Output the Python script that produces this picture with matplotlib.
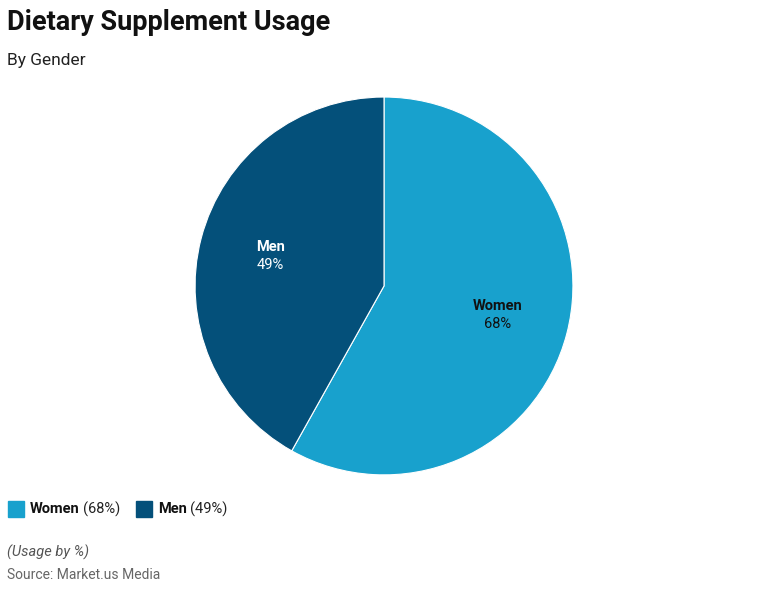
import matplotlib
matplotlib.use("Agg")
import matplotlib.pyplot as plt
from matplotlib.patches import Rectangle
import numpy as np

labels = ["Women", "Men"]
values = [68, 49]
colors = ["#18A1CD", "#04507A"]
text_colors = ["#111111", "white"]

plt.rcParams['font.family'] = ['Roboto', 'DejaVu Sans']
fig = plt.figure(figsize=(7.68, 5.89), dpi=100)
ax = fig.add_axes([0.254, 0.1935, 0.492, 0.642])
wedges, _ = ax.pie(values, colors=colors, startangle=90, counterclock=False,
                   wedgeprops=dict(edgecolor="white", linewidth=0.8))
ax.set_aspect("equal")
ax.set_xlim(-1, 1)
ax.set_ylim(-1, 1)
for w, lab, v, tc in zip(wedges, labels, values, text_colors):
    ang = np.deg2rad((w.theta1 + w.theta2) / 2)
    x, y = 0.62 * np.cos(ang), 0.62 * np.sin(ang)
    ax.text(x, y + 0.05, lab, ha="center", va="center", fontsize=10.5, fontweight="bold", color=tc)
    ax.text(x, y - 0.045, f"{v}%", ha="center", va="center", fontsize=10.5, color=tc)

fig.text(7/768, 1-22/589, "Dietary Supplement Usage", fontsize=19.5, fontweight="bold", va="center", color="#111111")
fig.text(7/768, 1-61/589, "By Gender", fontsize=12.5, va="center", color="#222222")

# legend
x0 = 8
for lab, v, c in zip(labels, values, colors):
    fig.patches.append(Rectangle((x0/768, 1-517/589), 16/768, 16/589, transform=fig.transFigure, color=c))
    t = fig.text((x0+22)/768, 1-509/589, lab, fontsize=10.5, fontweight="bold", va="center", color="#111111")
    fig.canvas.draw()
    bb = t.get_window_extent()
    t2 = fig.text(bb.x1/768 + 3/768, 1-509/589, f"({v}%)", fontsize=10.5, va="center", color="#222222")
    fig.canvas.draw()
    x0 = t2.get_window_extent().x1 + 16

fig.text(7/768, 1-552/589, "(Usage by %)", fontsize=10.5, style="italic", va="center", color="#555555")
fig.text(7/768, 1-575/589, "Source: Market.us Media", fontsize=10, va="center", color="#666666")
fig.savefig("out.png", dpi=100, facecolor="white")
